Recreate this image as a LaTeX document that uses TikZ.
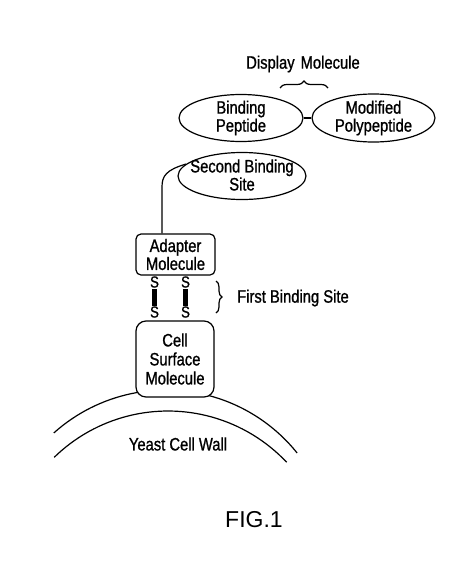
\documentclass[tikz,border=0pt]{standalone}
\usepackage{fontspec}
\setmainfont{Liberation Sans}[FakeStretch=0.82,FakeBold=1]
\newfontfamily\figfont{Liberation Sans}
\usetikzlibrary{shapes.geometric,decorations.pathreplacing}
\tikzset{
 lbl/.style={font=\fontsize{18}{18}\selectfont, align=center, inner sep=0pt},
 oval/.style={ellipse, draw, line width=1.2pt, inner sep=0pt},
 box/.style={draw, rectangle, line width=1.2pt, lbl, fill=white},
 ln/.style={line width=1.2pt},
 ssym/.style={font=\fontsize{16}{16}\selectfont, inner sep=0pt},
 sbar/.style={fill=black, draw=none, minimum width=5pt, minimum height=17pt, inner sep=0pt},
}
\begin{document}
\begin{tikzpicture}[x=1pt,y=-1pt]
\useasboundingbox (0,0) rectangle (474,565);
% cell wall arcs
\draw[ln] (166,558) ++(-131.9:168) arc[start angle=-131.9,end angle=-38.7,radius=168];
\draw[ln] (168,574) ++(-134.3:163) arc[start angle=-134.3,end angle=-43.3,radius=163];
\node[lbl] (ycw) at (178,444) {Yeast Cell Wall};
% cell surface molecule
\node[box, minimum width=78pt, minimum height=76pt, rounded corners=10pt, font=\fontsize{18}{19}\selectfont] (csm) at (175,359) {Cell\\Surface\\Molecule};
% adapter
\node[box, minimum width=79pt, minimum height=41pt, rounded corners=5pt] (adp) at (175.5,254.5) {Adapter\\Molecule};
% disulfide bonds
\node[ssym] (s1a) at (154.5,282) {S};
\node[sbar] (b1) at (154.5,297) {};
\node[ssym] (s1b) at (154.5,312) {S};
\node[ssym] (s2a) at (185.5,282) {S};
\node[sbar] (b2) at (185.5,297) {};
\node[ssym] (s2b) at (185.5,312) {S};
\coordinate (fb1) at (216,281);
\coordinate (fb2) at (216,313);
\draw[ln, decorate, decoration={brace, amplitude=6pt}] (fb1) -- (fb2);
\node[lbl, anchor=west] (fbs) at (237,298) {First Binding Site};
% second binding site
\node[oval, minimum width=128pt, minimum height=47pt] (ssb) at (242,176) {};
\node[lbl] at (242,175) {Second Binding\\Site};
\coordinate (lk) at (162,187);
\draw[ln] (ssb.168) .. controls (166,170) and (162,176) .. (lk) -- (lk |- adp.north);
% display molecule
\node[oval, minimum width=124pt, minimum height=47pt] (bp) at (241,118) {};
\node[lbl] at (bp) {Binding\\Peptide};
\node[oval, minimum width=123pt, minimum height=48pt] (mp) at (373.5,118) {};
\node[lbl] at (mp) {Modified\\Polypeptide};
\draw[ln] (bp.east) -- (mp.west);
\coordinate (db1) at (280,88);
\coordinate (db2) at (328,88);
\draw[ln, decorate, decoration={brace, amplitude=7pt}] (db1) -- (db2);
\node[lbl] (dm) at (303,64) {Display\hspace{6pt}Molecule};
% caption
\node[font=\figfont\fontsize{23}{23}\selectfont, inner sep=0pt] (fig) at (254,520) {FIG.1};
\end{tikzpicture}
\end{document}
